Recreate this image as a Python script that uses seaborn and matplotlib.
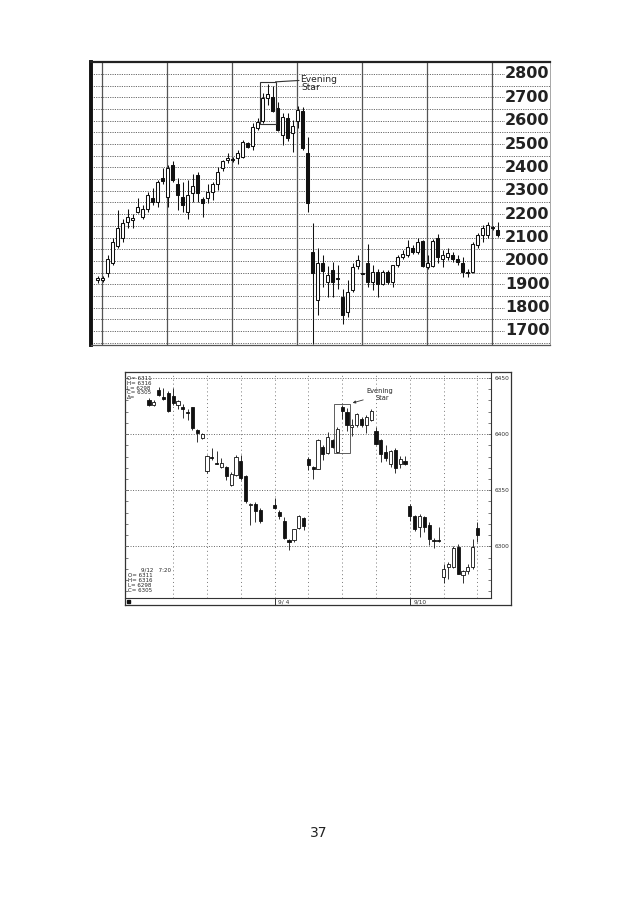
import numpy as np
import matplotlib
matplotlib.use("Agg")
import matplotlib.pyplot as plt
import matplotlib.transforms as mtransforms
from matplotlib.patches import Rectangle
import seaborn as sns

sns.set_theme(style="white")
plt.rcParams['font.family'] = ['DejaVu Sans']

W, H = 638, 897

# upper chart: daily candles, 81 sessions
top_open = [1918, 1920, 1946, 1989, 2064, 2099, 2167, 2178, 2210, 2189,
            2221, 2267, 2253, 2353, 2274, 2410, 2327, 2274, 2210, 2289,
            2367, 2264, 2267, 2296, 2331, 2396, 2433, 2436, 2439, 2446,
            2503, 2493, 2567, 2599, 2696, 2703, 2656, 2539, 2610, 2546,
            2599, 2641, 2460, 2039, 1831, 1989, 1910, 1960, 1926, 1846,
            1781, 1874, 1979, 1948, 1989, 1910, 1953, 1903, 1953, 1910,
            1981, 2017, 2024, 2056, 2039, 2086, 1974, 1979, 2096, 2010,
            2017, 2027, 2010, 1989, 1953, 1953, 2070, 2110, 2110, 2145,
            2130]
top_close = [1928, 1926, 2010, 2081, 2139, 2160, 2186, 2182, 2231, 2224,
             2281, 2253, 2339, 2340, 2396, 2346, 2281, 2239, 2281, 2320,
             2289, 2246, 2296, 2327, 2381, 2427, 2438, 2430, 2460, 2510,
             2489, 2574, 2596, 2696, 2713, 2641, 2560, 2617, 2524, 2577,
             2646, 2484, 2246, 1946, 1989, 1956, 1939, 1910, 1922, 1767,
             1867, 1974, 2003, 1946, 1910, 1953, 1903, 1953, 1910, 1981,
             2017, 2031, 2060, 2039, 2081, 1979, 1989, 2086, 2017, 2024,
             2034, 2006, 1996, 1953, 1946, 2074, 2110, 2141, 2153, 2140,
             2111]
top_high = [1935, 1935, 2024, 2099, 2216, 2181, 2221, 2201, 2267, 2239,
            2296, 2310, 2346, 2396, 2410, 2427, 2356, 2339, 2346, 2370,
            2381, 2274, 2331, 2339, 2403, 2431, 2460, 2446, 2474, 2517,
            2510, 2589, 2610, 2717, 2756, 2750, 2681, 2631, 2631, 2603,
            2664, 2660, 2531, 2160, 2053, 2024, 1979, 1996, 1981, 1881,
            1920, 1989, 2024, 1950, 2074, 1981, 1967, 1960, 1960, 1984,
            2027, 2046, 2089, 2070, 2099, 2089, 2027, 2093, 2113, 2046,
            2053, 2039, 2024, 2017, 1967, 2081, 2121, 2153, 2167, 2150,
            2167]
top_low = [1905, 1910, 1931, 1984, 2053, 2081, 2139, 2139, 2203, 2181,
           2210, 2239, 2231, 2331, 2231, 2339, 2217, 2210, 2181, 2253,
           2253, 2189, 2246, 2260, 2303, 2386, 2417, 2424, 2413, 2439,
           2482, 2474, 2560, 2589, 2667, 2639, 2556, 2496, 2513, 2467,
           2567, 2474, 2210, 1645, 1767, 1889, 1846, 1846, 1881, 1731,
           1760, 1867, 1967, 1944, 1889, 1874, 1846, 1896, 1903, 1889,
           1974, 2006, 2017, 2031, 2031, 1974, 1967, 1974, 1989, 1974,
           2003, 1996, 1981, 1931, 1929, 1950, 2053, 2081, 2096, 2130,
           2103]
top_ticks = [2800, 2700, 2600, 2500, 2400, 2300, 2200, 2100, 2000, 1900, 1800, 1700]
top_star = [33, 35]          # first and last candle of the pattern

# lower chart: hourly candles (slot 24-25 empty)
bot_slot = list(range(0, 24)) + list(range(26, 69))
bot_open = [6430, 6426, 6439.6, 6433, 6436.6, 6433.7, 6425.6, 6424, 6419.5, 6424,
            6404, 6397, 6366.8, 6379.5, 6374.5, 6370.4, 6370.4, 6354.9, 6363.8, 6375.7,
            6362.4, 6336.5, 6337.7, 6332.6,
            6337, 6331, 6322.3, 6305.5, 6305.3, 6316.3, 6325.2,
            6377.5, 6370.7, 6369.2, 6388.5, 6383.5, 6394.4, 6384, 6424.2, 6419.7, 6406,
            6407.8, 6413.8, 6407.8, 6412.3, 6402.5, 6394.4, 6384.5, 6373.6, 6386, 6373.6,
            6376,
            6336.4, 6327.5, 6317.5, 6326.6, 6319.4, 6305.5, 6305.5,
            6273, 6282, 6281.8, 6299.4, 6274.5, 6278.3, 6281.8, 6316.7]
bot_close = [6426, 6429, 6434.6, 6431, 6420.3, 6427.7, 6429.2, 6422, 6419, 6405.4,
             6401, 6400, 6380.2, 6379, 6374, 6374, 6362.4, 6364.4, 6379.3, 6360.9,
             6340, 6337.5, 6331.2, 6322.3,
             6334, 6327, 6307.4, 6304, 6315.7, 6327, 6318,
             6372.2, 6368.6, 6394.4, 6382.6, 6397.4, 6388.5, 6404.8, 6420.3, 6408.4, 6408,
             6418, 6407.8, 6415.3, 6420.3, 6391.5, 6382.6, 6379.2, 6385.4, 6369.6, 6377.5,
             6373,
             6327.5, 6315.6, 6327.5, 6317.5, 6306.6, 6305, 6305,
             6279.8, 6284.5, 6298.8, 6275.7, 6278, 6281.2, 6299.4, 6309.9]
bot_high = [6432, 6430, 6441.7, 6441, 6438.7, 6441, 6430, 6427, 6422, 6424.5,
            6404.5, 6401, 6381, 6387.6, 6385, 6378.5, 6372, 6366.2, 6381, 6381,
            6364, 6338.5, 6339.5, 6334,
            6343, 6332, 6326, 6306.5, 6315.7, 6327.6, 6326,
            6379.6, 6371.6, 6395.9, 6390, 6401.9, 6395.9, 6406.3, 6425.7, 6423.3, 6413.8,
            6419, 6415.3, 6416.8, 6422.7, 6406.3, 6395.9, 6390, 6386.3, 6387.6, 6380.5,
            6380.5,
            6337.9, 6328.4, 6329, 6327.5, 6321.5, 6307.5, 6317.5,
            6284, 6286, 6300.4, 6301.8, 6279, 6284.2, 6306.7, 6321.8]
bot_low = [6425, 6425, 6433.7, 6430, 6419.7, 6426, 6422.7, 6414, 6413, 6404,
           6393, 6396, 6365.3, 6377, 6373, 6370, 6359.4, 6353.4, 6363, 6359.4,
           6338.5, 6319, 6322, 6321,
           6333.5, 6324.6, 6306.8, 6296.4, 6303.8, 6315.7, 6314.4,
           6367.7, 6360.3, 6368.6, 6376.6, 6382.6, 6387.6, 6383.5, 6413.8, 6402.5, 6398,
           6406.3, 6406.3, 6401, 6411.4, 6390.6, 6375, 6376.3, 6370.7, 6365.2, 6369.9,
           6372.4,
           6323, 6314, 6308.5, 6312.5, 6301.5, 6299, 6304,
           6267, 6271, 6280.6, 6275.1, 6267.3, 6275.4, 6279.7, 6303.9]
bot_ticks = [6450, 6400, 6350, 6300]
bot_date_slots = [26, 54]
bot_dates = ["9/ 4", "9/10"]
bot_star = [39, 41]
info_top = ["O= 6311", "H= 6316", "L= 6298", "C= 6305", "Δ="]
info_bottom = ["O= 6311", "H= 6316", "L= 6298", "C= 6305"]
info_stamp = "9/12   7:20"


def px_axes(fig, x0, y0, x1, y1):
    return fig.add_axes([x0 / W, 1 - y1 / H, (x1 - x0) / W, (y1 - y0) / H])


def candles(ax, x, o, h, l, c, width, lw, min_body):
    x = np.asarray(x, float)
    o, h, l, c = (np.asarray(a, float) for a in (o, h, l, c))
    up = c >= o
    ax.vlines(x, l, h, color="#111111", lw=lw, zorder=3)
    body = np.maximum(np.abs(c - o), min_body)
    ax.bar(x, body, bottom=np.minimum(o, c) - (body - np.abs(c - o)) / 2,
           width=width, color=np.where(up, "white", "#111111"),
           edgecolor="#111111", linewidth=lw, zorder=4)


fig = plt.figure(figsize=(W / 100, H / 100), dpi=100)
fig.patch.set_facecolor("white")

# ---- upper chart
ax = px_axes(fig, 91, 62, 550, 345)
ax.set_facecolor("white")
ax.set_xlim(-1.3, 90.5)
ax.set_ylim(1640, 2851)
for v in np.arange(1650, 2851, 50):
    ax.axhline(v, color="#6a6a6a", lw=0.7, ls=(0, (1.2, 1.2)), zorder=1)
for k in range(7):
    ax.axvline(0.9 + 13 * k, color="#555555", lw=0.9, zorder=1)
candles(ax, np.arange(len(top_open)), top_open, top_high, top_low, top_close,
        width=0.72, lw=0.75, min_body=6)
trans = mtransforms.blended_transform_factory(ax.transAxes, ax.transData)
for t in top_ticks:
    ax.text(0.999, t, str(t), transform=trans, ha="right", va="center",
            fontsize=11.5, fontweight="bold", color="#222222",
            bbox=dict(facecolor="white", edgecolor="none", pad=0.2), zorder=5)
i0, i1 = top_star
hi = max(top_high[i0:i1 + 1]) + 10
lo = min(top_low[i0:i1 + 1]) - 4
ax.add_patch(Rectangle((i0 - 0.6, lo), i1 - i0 + 1.2, hi - lo, fill=False,
                       edgecolor="#333333", lw=0.8, zorder=5))
ax.plot([i1 + 0.6, i1 + 5.3], [hi, hi + 6], color="#333333", lw=0.8, zorder=5)
ax.text(i1 + 5.5, hi + 12, "Evening", fontsize=6.6, va="center", ha="left", color="#222222")
ax.text(i1 + 5.8, hi - 26, "Star", fontsize=6.6, va="center", ha="left", color="#222222")
ax.set_xticks([])
ax.set_yticks([])
ax.spines["left"].set_linewidth(2.8)
ax.spines["left"].set_color("#111111")
ax.spines["top"].set_linewidth(1.6)
ax.spines["top"].set_color("#222222")
ax.spines["bottom"].set_linewidth(0.9)
ax.spines["bottom"].set_color("#555555")
ax.spines["right"].set_linewidth(0.6)
ax.spines["right"].set_color("#999999")

# ---- lower chart
frame = px_axes(fig, 125, 372, 511, 605)
frame.set_xticks([])
frame.set_yticks([])
frame.set_facecolor("white")
for s in frame.spines.values():
    s.set_linewidth(0.9)
    s.set_color("#333333")

bx = px_axes(fig, 125, 373, 491, 598)
bx.patch.set_alpha(0)
bx.set_xlim(-4.97, 70.8)
bx.set_ylim(6254, 6454.5)
for v in bot_ticks:
    bx.axhline(v, color="#666666", lw=0.7, ls=(0, (1, 1.6)), zorder=1)
for k in range(10):
    bx.axvline(5 + 7 * k, color="#777777", lw=0.7, ls=(0, (1, 3)), zorder=1)
candles(bx, bot_slot, bot_open, bot_high, bot_low, bot_close,
        width=0.66, lw=0.6, min_body=0.9)
i0, i1 = bot_star
s0, s1 = bot_slot.index(i0), bot_slot.index(i1)
hi = max(bot_high[s0:s1 + 1]) + 1.5
lo = min(bot_low[s0:s1 + 1])
bx.add_patch(Rectangle((i0 - 0.6, lo), i1 - i0 + 1.2, hi - lo, fill=False,
                       edgecolor="#444444", lw=0.6, zorder=5))
bx.annotate("", xy=(i1 + 0.6, hi), xytext=(i1 + 3.9, hi + 4),
            arrowprops=dict(arrowstyle="-|>", color="#333333", lw=0.6,
                            mutation_scale=4), zorder=5)
bx.text(i1 + 6.8, hi + 11.5, "Evening", fontsize=4.8, ha="center", va="center", color="#222222")
bx.text(i1 + 7.3, hi + 4.6, "Star", fontsize=4.8, ha="center", va="center", color="#222222")
bx.set_xticks([])
bx.set_yticks(np.arange(6260, 6451, 10))
bx.tick_params(axis="y", direction="in", length=2.2, width=0.5, color="#444444",
               left=True, right=True, labelleft=False, labelright=False)
for name in ["top", "left"]:
    bx.spines[name].set_visible(False)
for name in ["right", "bottom"]:
    bx.spines[name].set_linewidth(0.8)
    bx.spines[name].set_color("#333333")
btrans = mtransforms.blended_transform_factory(bx.transAxes, bx.transData)
for t in bot_ticks:
    bx.text(1.011, t, str(t), transform=btrans, ha="left", va="center",
            fontsize=4.2, color="#333333")
for j, line in enumerate(info_top):
    bx.text(0.006, 0.985 - j * 0.0205, line, transform=bx.transAxes, ha="left",
            va="top", fontsize=4, color="#222222", zorder=6)
bx.text(0.045, 0.125, info_stamp, transform=bx.transAxes, ha="left", va="center",
        fontsize=4, color="#222222")
for j, line in enumerate(info_bottom):
    bx.text(0.008, 0.1 - j * 0.0222, line, transform=bx.transAxes, ha="left",
            va="center", fontsize=4, color="#222222")

# date strip
dx = px_axes(fig, 125, 598, 491, 605)
dx.patch.set_alpha(0)
dx.set_xlim(bx.get_xlim())
dx.set_ylim(0, 1)
dx.axis("off")
dx.vlines(bot_date_slots, 0, 1, color="#333333", lw=0.7)
for s, lab in zip(bot_date_slots, bot_dates):
    dx.text(s + 0.7, 0.45, lab, fontsize=4.2, ha="left", va="center", color="#333333")
dx.add_patch(Rectangle((-4.5, 0.25), 0.55, 0.45, color="#111111"))

fig.text(319 / W, 1 - 833 / H, "37", ha="center", va="center", fontsize=10, color="#222222")

fig.savefig("out.png", dpi=100)
